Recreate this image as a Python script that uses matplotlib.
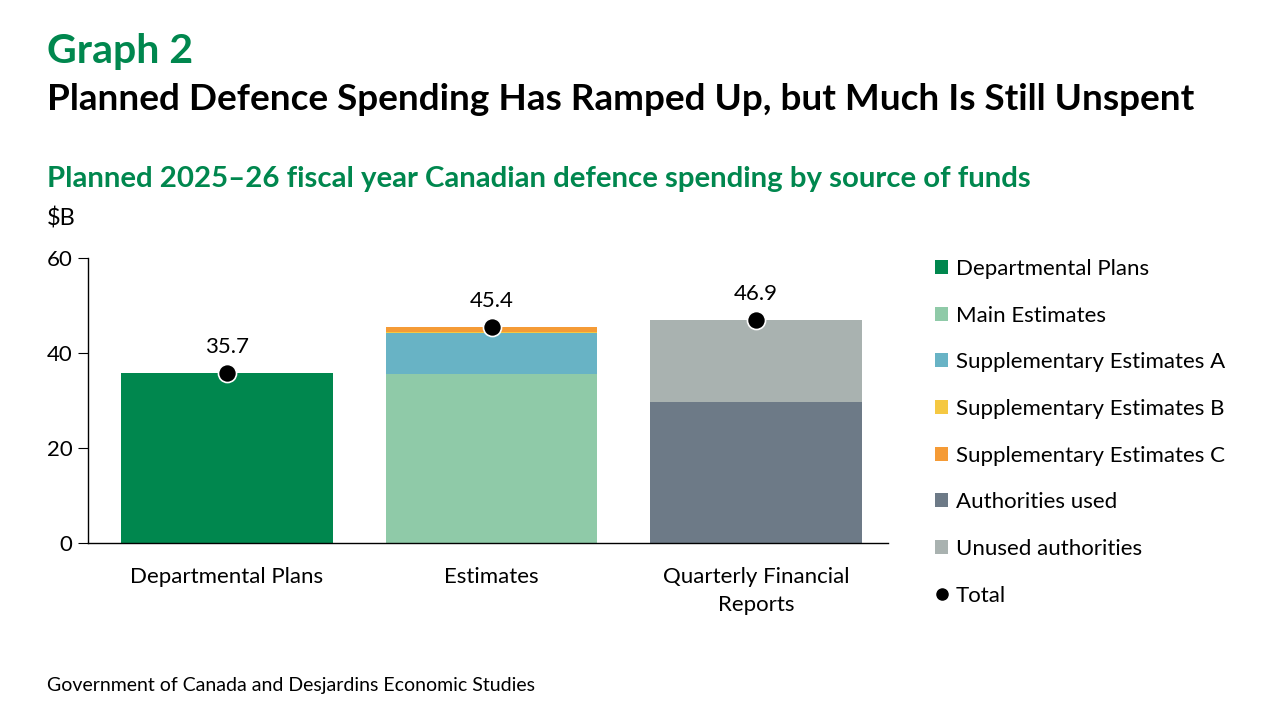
import matplotlib.pyplot as plt
from matplotlib.patches import Patch
from matplotlib.lines import Line2D

plt.rcParams['font.family'] = ['Lato', 'DejaVu Sans']

# Data ($B)
categories = ['Departmental Plans', 'Estimates', 'Quarterly Financial\nReports']
dept_plans = [35.7, 0, 0]
main_est = [0, 35.6, 0]
supp_a = [0, 8.6, 0]
supp_b = [0, 0.2, 0]
supp_c = [0, 1.0, 0]
auth_used = [0, 0, 29.7]
auth_unused = [0, 0, 17.2]
totals = [35.7, 45.4, 46.9]

series = [
    ('Departmental Plans', dept_plans, '#00874E'),
    ('Main Estimates', main_est, '#8FCAA8'),
    ('Supplementary Estimates A', supp_a, '#68B3C5'),
    ('Supplementary Estimates B', supp_b, '#F5C842'),
    ('Supplementary Estimates C', supp_c, '#F59B36'),
    ('Authorities used', auth_used, '#6D7A87'),
    ('Unused authorities', auth_unused, '#A9B2B0'),
]

GREEN = '#00874E'
FS = 16

fig = plt.figure(figsize=(12.8, 7.2), dpi=100)
ax = fig.add_axes([88 / 1280, 1 - 543 / 720, 800 / 1280, 285 / 720])

x = list(range(len(categories)))
bottom = [0.0] * len(categories)
for name, vals, col in series:
    ax.bar(x, vals, width=0.8, bottom=bottom, color=col, linewidth=0)
    bottom = [b + v for b, v in zip(bottom, vals)]

ax.plot(x, totals, 'o', color='black', markersize=13, markeredgecolor='white',
        markeredgewidth=1.2, zorder=5)
for xi, t in zip(x, totals):
    ax.annotate(f'{t:.1f}', (xi, t), xytext=(0, 12), textcoords='offset points',
                ha='center', va='bottom', fontsize=FS)

ax.set_xlim(-0.5255, 2.499)
ax.set_ylim(0, 60)
ax.set_yticks([0, 20, 40, 60])
ax.set_xticks(x)
ax.set_xticklabels(categories, fontsize=FS, linespacing=1.5)
ax.tick_params(axis='x', length=0, pad=17)
ax.tick_params(axis='y', length=7, labelsize=FS, direction='out', pad=4)
for s in ['top', 'right']:
    ax.spines[s].set_visible(False)
ax.spines['left'].set_linewidth(1)
ax.spines['bottom'].set_linewidth(1)

handles = [Patch(facecolor=col, label=name) for name, _, col in series]
handles.append(Line2D([], [], marker='o', color='black', linestyle='none',
                      markersize=8, label='Total'))
fig.legend(handles=handles, loc='upper left', bbox_to_anchor=(926 / 1280, 1 - 250 / 720),
           frameon=False, fontsize=FS, handlelength=0.6, handleheight=0.6,
           handletextpad=0.35, labelspacing=1.2, borderaxespad=0)

fig.text(47 / 1280, 1 - 52 / 720, 'Graph 2', color=GREEN, fontsize=29.5,
         fontweight='bold', va='center')
fig.text(47 / 1280, 1 - 100 / 720, 'Planned Defence Spending Has Ramped Up, but Much Is Still Unspent',
         color='black', fontsize=26.6, fontweight='bold', va='center')
fig.text(47 / 1280, 1 - 179 / 720, 'Planned 2025\u201326 fiscal year Canadian defence spending by source of funds',
         color=GREEN, fontsize=21.2, fontweight='bold', va='center')
fig.text(47 / 1280, 1 - 219 / 720, '$B', fontsize=17, va='center')
fig.text(47 / 1280, 1 - 685 / 720, 'Government of Canada and Desjardins Economic Studies',
         fontsize=14, va='center')

fig.savefig('out.png', dpi=100)
